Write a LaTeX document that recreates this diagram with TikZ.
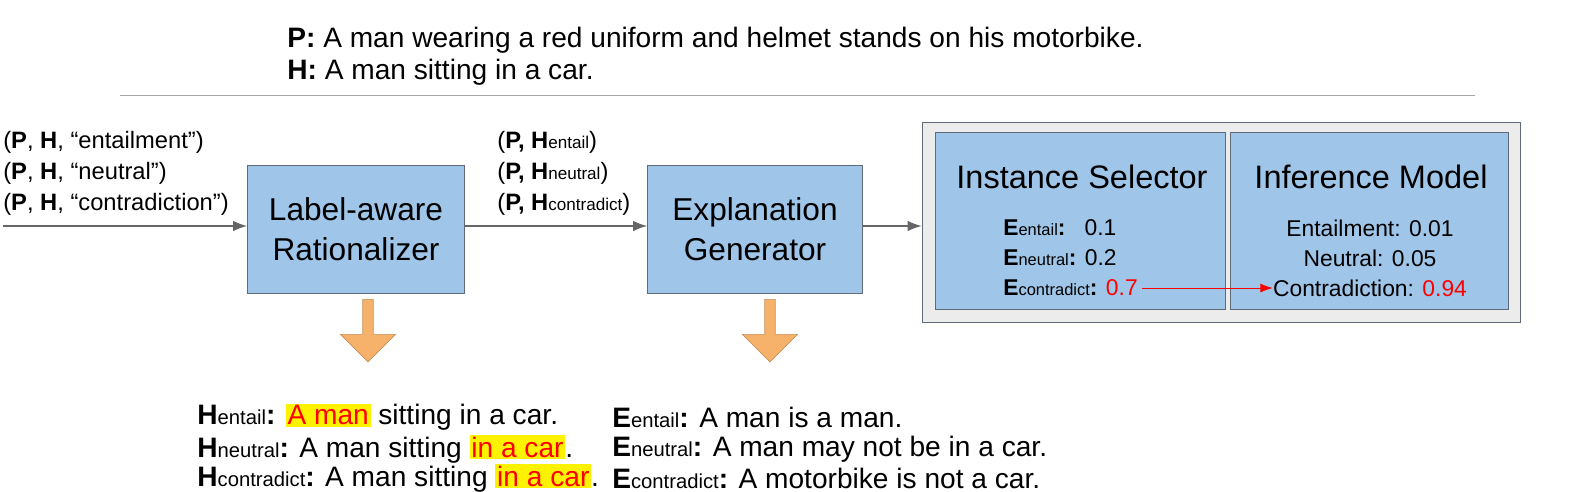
\documentclass[tikz,border=0pt]{standalone}
\usepackage{fontspec}
\setmainfont{Liberation Sans}
\usetikzlibrary{shapes.arrows,arrows.meta}
\definecolor{boxblue}{HTML}{9FC5E8}
\definecolor{boxline}{HTML}{5F6B78}
\definecolor{downorange}{HTML}{F6B26B}
\newcommand{\sub}[2]{\textbf{#1}{\fontsize{0.72em}{1em}\selectfont #2}}
\newcommand{\hl}[1]{{\setlength{\fboxsep}{1pt}\colorbox{yellow}{\textcolor{red}{#1}}}}
\tikzset{
  txt/.style={anchor=west,inner sep=0pt,font=\fontsize{16}{18}\selectfont},
  lab/.style={txt,font=\fontsize{13.5}{16}\selectfont},
  score/.style={txt,font=\fontsize{13}{16}\selectfont},
  block/.style={draw=boxline,fill=boxblue,align=center,font=\fontsize{18}{23}\selectfont,inner sep=0pt},
  flow/.style={draw=gray!80!black,thick,-{Latex[length=8pt,width=6pt]}},
  down/.style={single arrow,draw=downorange!80!black,fill=downorange,rotate=-90,
    minimum height=1.25cm,minimum width=1.1cm,single arrow head extend=0.03cm,inner sep=0pt}
}
\begin{document}
\begin{tikzpicture}[x=0.02cm,y=-0.02cm]
\useasboundingbox (0,0) rectangle (1578,491);
% premise and hypothesis
\node[txt] (p) at (287,40) {\textbf{P:} A man wearing a red uniform and helmet stands on his motorbike.};
\node[txt] (h) at (287,72) {\textbf{H:} A man sitting in a car.};
\draw[gray!70] (120,95) -- (1475,95);
% inputs
\node[lab] (in1) at (3,142) {(\textbf{P}, \textbf{H}, “entailment”)};
\node[lab] (in2) at (3,173) {(\textbf{P}, \textbf{H}, “neutral”)};
\node[lab] (in3) at (3,204) {(\textbf{P}, \textbf{H}, “contradiction”)};
\coordinate (start) at (3,226);
% blocks
\node[block,minimum width=4.34cm,minimum height=2.56cm] (rat) at (356,229) {Label-aware\\Rationalizer};
\node[block,minimum width=4.3cm,minimum height=2.56cm] (gen) at (755,229) {Explanation\\Generator};
\node[lab] (m1) at (497,142) {(\textbf{P, }\sub{H}{entail})};
\node[lab] (m2) at (497,173) {(\textbf{P, }\sub{H}{neutral})};
\node[lab] (m3) at (497,204) {(\textbf{P, }\sub{H}{contradict})};
\draw[flow] (start) -- (start -| rat.west);
\draw[flow] (rat.east |- start) -- (start -| gen.west);
% selector and inference
\node[draw=boxline,fill=gray!15,minimum width=11.96cm,minimum height=4cm] (outer) at (1221,222) {};
\draw[flow] (gen.east |- start) -- (start -| outer.west);
\node[block,minimum width=5.8cm,minimum height=3.54cm] (sel) at (1080,221) {};
\node[block,minimum width=5.56cm,minimum height=3.54cm] (inf) at (1369,221) {};
\node[font=\fontsize{18.5}{21}\selectfont] (selt) at (1082,177) {Instance Selector};
\node[font=\fontsize{18.5}{21}\selectfont] (inft) at (1371,177) {Inference Model};
\node[score] (e1) at (1003,228) {\sub{E}{entail}\textbf{:}\ \ \ 0.1};
\node[score] (e2) at (1003,258) {\sub{E}{neutral}\textbf{:} 0.2};
\node[score] (e3) at (1003,288) {\sub{E}{contradict}\textbf{:} \textcolor{red}{0.7}};
\node[score,anchor=center] (s1) at (1370,228) {Entailment: 0.01};
\node[score,anchor=center] (s2) at (1370,258) {Neutral: 0.05};
\node[score,anchor=center] (s3) at (1370,288) {Contradiction: \textcolor{red}{0.94}};
\draw[red,-{Latex[length=7pt,width=5pt]}] (e3.east) ++(4,0) -- (s3.west);
% outputs
\node[down] (d1) at (368,328) {};
\node[down] (d2) at (770,328) {};
\node[txt] (h1) at (197,417) {\sub{H}{entail}\textbf{:} \hl{A man} sitting in a car.};
\node[txt] (h2) at (197,449) {\sub{H}{neutral}\textbf{:} A man sitting \hl{in a car}.};
\node[txt] (h3) at (197,478) {\sub{H}{contradict}\textbf{:} A man sitting \hl{in a car}.};
\node[txt] (x1) at (612,417) {\sub{E}{entail}\textbf{:} A man is a man.};
\node[txt] (x2) at (612,449) {\sub{E}{neutral}\textbf{:} A man may not be in a car.};
\node[txt] (x3) at (612,478) {\sub{E}{contradict}\textbf{:} A motorbike is not a car.};
\end{tikzpicture}
\end{document}
